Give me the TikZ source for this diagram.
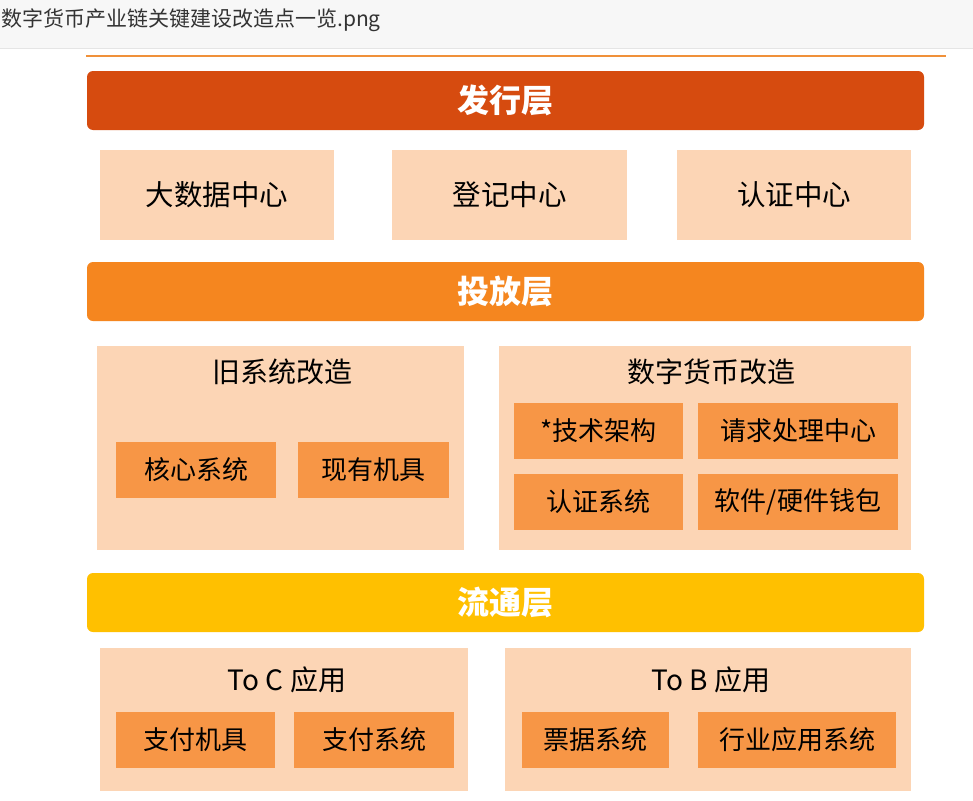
\documentclass[tikz,border=0pt]{standalone}
\usepackage{fontspec}
\setmainfont{Noto Sans CJK SC}
\usepackage{tikz}
\usetikzlibrary{positioning}

\definecolor{issue}{HTML}{D64B0F}
\definecolor{deliver}{HTML}{F5861F}
\definecolor{circulate}{HTML}{FFC000}
\definecolor{peach}{HTML}{FCD5B5}
\definecolor{tangerine}{HTML}{F79646}
\definecolor{rule}{HTML}{F0913A}

\begin{document}
\begin{tikzpicture}[x=1pt,y=-1pt]
    \tikzstyle{layer} = [rounded corners=6pt,text=white,inner sep=0pt,minimum width=837pt,minimum height=59pt,font=\bfseries\fontsize{32}{32}\selectfont]
\tikzstyle{cell} = [fill=peach,inner sep=0pt,font=\fontsize{28.5}{28.5}\selectfont]
\tikzstyle{part} = [fill=tangerine,inner sep=0pt,minimum height=56pt,font=\fontsize{26}{26}\selectfont]
\tikzstyle{group} = [fill=peach,inner sep=0pt]
\tikzstyle{heading} = [inner sep=0pt,font=\fontsize{28}{28}\selectfont]

\useasboundingbox (0,0) rectangle (973,800);
\fill[white] (0,0) rectangle (973,800);

% window title
\fill[black!3] (0,0) rectangle (973,48);
\draw[black!10] (0,48) -- (973,48);
\node[anchor=base west,inner sep=0pt,text=black!80,font=\fontsize{21}{21}\selectfont] (title) at (1,27) {数字货币产业链关键建设改造点一览.png};
\coordinate (r1) at (86,56);
\coordinate (r2) at (946,56);
\draw[rule,line width=1.2pt] (r1) -- (r2);

% issuing layer
\node[layer,fill=issue] (l1) at (505.5,100.5) {发行层};
\node[cell,minimum width=234pt,minimum height=90pt] (c1) at (217,195) {大数据中心};
\node[cell,minimum width=235pt,minimum height=90pt] (c2) at (509.5,195) {登记中心};
\node[cell,minimum width=234pt,minimum height=90pt] (c3) at (794,195) {认证中心};

% delivery layer
\node[layer,fill=deliver] (l2) at (505.5,291.5) {投放层};
\node[group,minimum width=367pt,minimum height=204pt] (g1) at (280.5,448) {};
\node[heading] (h1) at (282,372) {旧系统改造};
\node[part,minimum width=160pt] (p1) at (196,470) {核心系统};
\node[part,minimum width=151pt] (p2) at (373.5,470) {现有机具};

\node[group,minimum width=412pt,minimum height=204pt] (g2) at (705,448) {};
\node[heading] (h2) at (711,372) {数字货币改造};
\node[part,minimum width=169pt] (p3) at (598.5,431) {*技术架构};
\node[part,minimum width=200pt] (p4) at (798,431) {请求处理中心};
\node[part,minimum width=169pt] (p5) at (598.5,502) {认证系统};
\node[part,minimum width=200pt] (p6) at (798,502) {软件/硬件钱包};

% circulation layer
\node[layer,fill=circulate] (l3) at (505.5,602.5) {流通层};
\node[group,minimum width=368pt,minimum height=143pt] (g3) at (284,719.5) {};
\node[heading] (h3) at (287,680) {To C 应用};
\node[part,minimum width=159pt] (p7) at (195.5,740) {支付机具};
\node[part,minimum width=160pt] (p8) at (374,740) {支付系统};

\node[group,minimum width=406pt,minimum height=143pt] (g4) at (708,719.5) {};
\node[heading] (h4) at (711,680) {To B 应用};
\node[part,minimum width=147pt] (p9) at (595.5,740) {票据系统};
\node[part,minimum width=198pt] (p10) at (797,740) {行业应用系统};

\end{tikzpicture}
\end{document}
